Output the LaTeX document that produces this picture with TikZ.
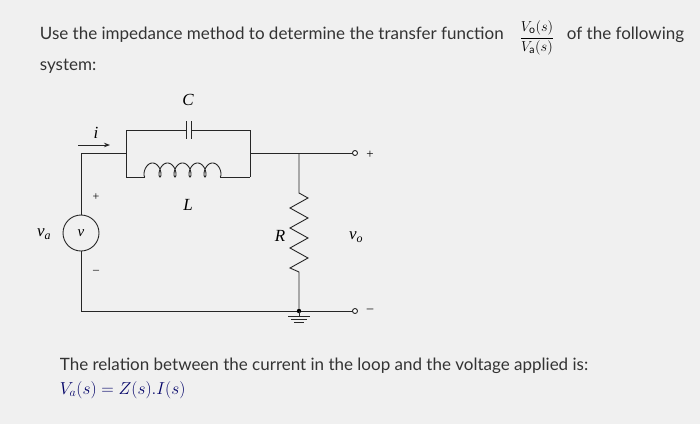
\documentclass[tikz,border=0pt]{standalone}
\usepackage{fontspec}
\setmainfont{Lato}
\newfontfamily\ser{Liberation Serif}
\usetikzlibrary{arrows.meta}
\begin{document}
\begin{tikzpicture}[x=1pt,y=-1pt,line width=1.1pt,
  txt/.style={anchor=base west,font=\fontsize{17}{19}\selectfont,text=black!80},
  lbl/.style={font=\ser\fontsize{17}{18}\selectfont\itshape}]
\fill[gray!12] (0,0) rectangle (700,424);
\useasboundingbox (0,0) rectangle (700,424);
\node[txt] (t1) at (36,39) {Use the impedance method to determine the transfer function};
\node[font=\fontsize{15}{16}\selectfont] (fr) at (537,38) {$\displaystyle\frac{V_{\rm o}(s)}{V_{\rm a}(s)}$};
\node[txt] (t2) at (563,39) {of the following};
\node[txt] (t3) at (36,70) {system:};
\node[txt] (t4) at (56,370) {The relation between the current in the loop and the voltage applied is:};
\node[txt,text=blue!40!black] (t5) at (56,394) {$V_a(s) = Z(s).I(s)$};
% circuit
\begin{scope}[line width=0.9pt,draw=black!85]
\coordinate (tl) at (81,153); \coordinate (bl) at (81,311);
\node[draw,circle,minimum size=36pt,inner sep=0pt,font=\ser\itshape\fontsize{15}{16}\selectfont] (src) at (81,233) {v};
\draw (src.north) -- (tl) -- (126,153);
\draw (src.south) -- (bl) -- (353,311);
\draw (126,130) -- (126,177); \draw (250,130) -- (250,177);
\draw (126,130) -- (186,130); \draw (191,130) -- (250,130);
\draw (186,121) -- (186,139); \draw (191,121) -- (191,139);
\draw (126,177) -- (145,177);
\draw plot[domain=0:5,samples=250,smooth] ({145+15*\x-4*sin(\x*360)},{170+7*cos(\x*360)});
\draw (220,177) -- (250,177);
\draw (250,153) -- (353,153);
\draw (299,153) -- (299,193) -- (308,198) -- (290,208) -- (308,218) -- (290,228) -- (308,238) -- (290,248) -- (308,258) -- (290,268) -- (299,272) -- (299,311);
\fill (299,311) circle (2.2pt);
\draw (299,311) -- (299,316);
\draw (288,316) -- (310,316); \draw (291,319) -- (307,319); \draw (294,322) -- (304,322);
\draw[fill=white] (355,153) circle (2.5pt); \draw[fill=white] (355,311) circle (2.5pt);
\draw[-{Stealth[length=6pt]}] (78,145) -- (110,145);
\end{scope}
\node[lbl,font=\ser\fontsize{13}{14}\selectfont] at (370,155) {+};
\node[lbl,font=\ser\fontsize{13}{14}\selectfont] at (370,311) {–};
\node[lbl,font=\ser\fontsize{12}{14}\selectfont] at (96,197) {+};
\node[lbl,font=\ser\fontsize{12}{14}\selectfont] at (96,272) {–};
\node[lbl] at (188,100) {C};
\node[lbl] at (188,205) {L};
\node[lbl] at (280,236) {R};
\node[lbl] at (356,237) {v\textsubscript{o}};
\node[lbl] at (44,234) {v\textsubscript{a}};
\node[lbl] at (96,133) {i};
\end{tikzpicture}
\end{document}
